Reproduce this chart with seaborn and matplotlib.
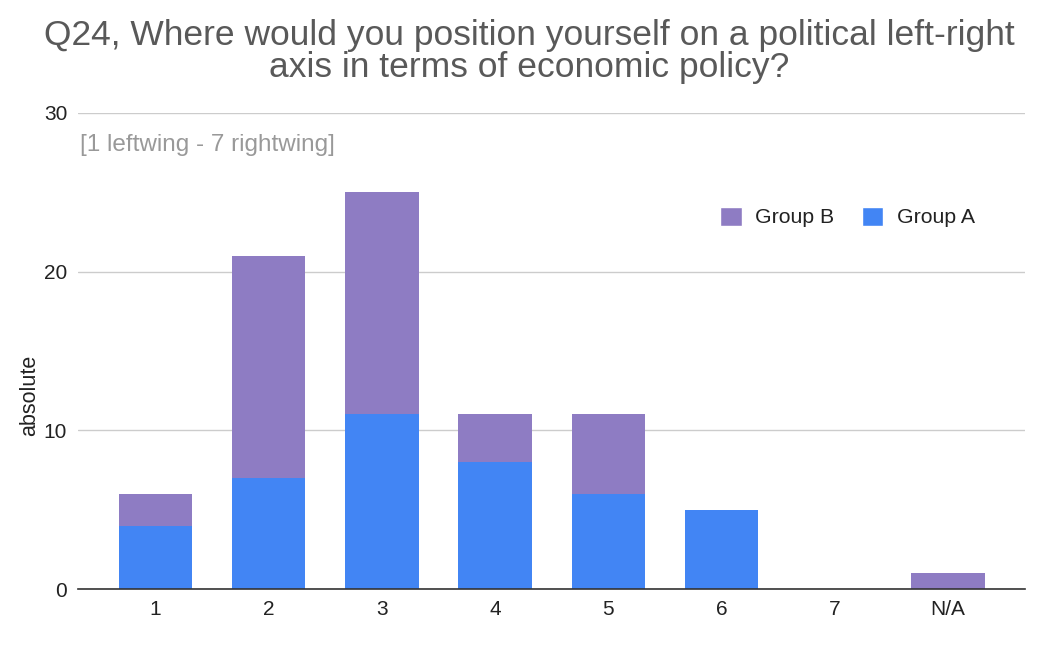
import matplotlib
matplotlib.use("Agg")
import matplotlib.pyplot as plt
import seaborn as sns
import pandas as pd
from matplotlib.patches import Patch

categories = ["1", "2", "3", "4", "5", "6", "7", "N/A"]
group_a = [4, 7, 11, 8, 6, 5, 0, 0]
group_b = [2, 14, 14, 3, 5, 0, 0, 1]
y_ticks = [0, 10, 20, 30]

sns.set_theme(style="white")
plt.rcParams['font.family'] = ['Liberation Sans', 'DejaVu Sans']

totals = [a + b for a, b in zip(group_a, group_b)]
df = pd.DataFrame({"cat": categories, "A": group_a, "B": group_b, "total": totals})

col_a = "#4285F4"
col_b = "#8E7CC3"

fig = plt.figure(figsize=(10.58, 6.53), dpi=100)
ax = fig.add_axes([0.074, 0.098, 0.895, 0.729])

sns.barplot(data=df, x="cat", y="total", color=col_b, saturation=1, width=0.65, ax=ax, linewidth=0)
sns.barplot(data=df, x="cat", y="A", color=col_a, saturation=1, width=0.65, ax=ax, linewidth=0)

ax.set_xlim(-0.68, 7.68)
ax.set_ylim(0, 30)
ax.set_yticks(y_ticks)
ax.yaxis.grid(True, color="#cccccc", linewidth=1)
ax.set_axisbelow(True)
for s in ["top", "right", "left"]:
    ax.spines[s].set_visible(False)
ax.spines["bottom"].set_color("#333333")
ax.spines["bottom"].set_linewidth(1.2)
ax.tick_params(axis="both", length=0, labelsize=15, colors="#222222", pad=8)
ax.set_xlabel("")
ax.set_ylabel("")

fig.text(30 / 1058, 1 - 395 / 653, "absolute", rotation=90, ha="center", va="center",
         fontsize=15.5, color="#222222")

fig.text(0.5, 1 - 19 / 653, "Q24, Where would you position yourself on a political left-right\naxis in terms of economic policy?",
         ha="center", va="top", fontsize=25.5, color="#595959", linespacing=0.97)
fig.text(0.076, 1 - 145 / 653, "[1 leftwing - 7 rightwing]", ha="left", va="center", fontsize=17.5, color="#999999")

handles = [Patch(facecolor=col_b, label="Group B"), Patch(facecolor=col_a, label="Group A")]
ax.legend(handles=handles, loc="center", bbox_to_anchor=(0.8126, 0.7815), ncol=2, frameon=False,
          fontsize=15.3, handlelength=1.0, handleheight=1.0, columnspacing=1.3, handletextpad=0.65,
          labelcolor="#222222")

fig.savefig("out.png", dpi=100, facecolor="white")
